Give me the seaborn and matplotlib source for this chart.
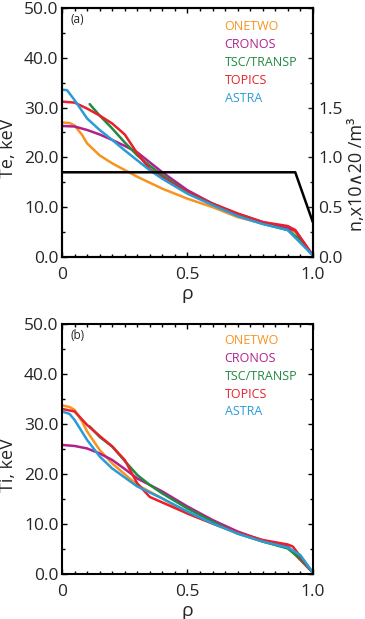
import numpy as np
import pandas as pd
import matplotlib
matplotlib.use("Agg")
import matplotlib.pyplot as plt
import seaborn as sns
from matplotlib.ticker import FixedLocator

sns.set_theme(style="white")
plt.rcParams['font.family'] = ['Open Sans', 'DejaVu Sans']

codes = ["ONETWO", "CRONOS", "TSC/TRANSP", "TOPICS", "ASTRA"]
colors = ["#F7941D", "#B0218E", "#218A3E", "#E8202A", "#2B9BD8"]

# Te profiles
te_onetwo_rho = [0.0, 0.03, 0.05, 0.08, 0.1, 0.15, 0.2, 0.3, 0.4, 0.5, 0.6, 0.7, 0.8, 0.9, 0.93, 1.0]
te_onetwo = [27.0, 26.9, 26.4, 24.5, 22.8, 20.4, 18.8, 16.1, 13.7, 11.7, 10.0, 8.0, 6.7, 5.4, 5.0, 0.3]
te_cronos_rho = [0.0, 0.05, 0.1, 0.15, 0.2, 0.25, 0.3, 0.35, 0.4, 0.5, 0.6, 0.7, 0.8, 0.9, 0.93, 1.0]
te_cronos = [26.3, 26.2, 25.5, 24.6, 23.5, 22.3, 21.0, 19.0, 17.0, 13.4, 10.7, 8.7, 7.0, 5.7, 5.3, 0.3]
te_tsc_rho = [0.11, 0.15, 0.2, 0.25, 0.3, 0.35, 0.4, 0.5, 0.6, 0.7, 0.8, 0.9, 0.95, 1.0]
te_tsc = [30.7, 28.4, 25.8, 23.0, 20.4, 18.3, 16.4, 13.0, 10.7, 8.4, 6.7, 5.4, 3.4, 0.3]
te_topics_rho = [0.0, 0.05, 0.1, 0.15, 0.2, 0.25, 0.3, 0.35, 0.4, 0.5, 0.6, 0.7, 0.8, 0.9, 0.93, 1.0]
te_topics = [31.2, 31.0, 29.8, 28.4, 26.8, 24.6, 20.8, 17.6, 16.0, 13.0, 10.7, 8.7, 7.0, 6.2, 5.4, 0.3]
te_astra_rho = [0.0, 0.02, 0.05, 0.1, 0.15, 0.2, 0.25, 0.3, 0.35, 0.4, 0.5, 0.6, 0.7, 0.8, 0.9, 1.0]
te_astra = [33.6, 33.5, 31.5, 27.8, 25.5, 23.5, 21.4, 19.4, 17.4, 15.7, 12.7, 10.4, 8.2, 6.6, 5.4, 0.3]

# density profile (right axis)
n_rho = [0.0, 0.93, 1.0]
n_val = [0.85, 0.85, 0.35]

# Ti profiles
ti_onetwo_rho = [0.0, 0.03, 0.05, 0.08, 0.1, 0.15, 0.2, 0.3, 0.4, 0.5, 0.6, 0.7, 0.8, 0.9, 1.0]
ti_onetwo = [33.7, 33.4, 32.8, 30.5, 28.5, 24.8, 22.1, 17.8, 15.1, 12.1, 10.1, 8.1, 6.5, 5.3, 0.3]
ti_cronos_rho = [0.0, 0.05, 0.1, 0.15, 0.2, 0.25, 0.3, 0.4, 0.5, 0.6, 0.7, 0.8, 0.9, 1.0]
ti_cronos = [25.8, 25.6, 25.1, 24.1, 22.8, 21.0, 19.1, 16.5, 13.5, 10.8, 8.5, 6.7, 5.5, 0.3]
ti_tsc_rho = [0.11, 0.15, 0.2, 0.25, 0.3, 0.35, 0.4, 0.5, 0.6, 0.7, 0.8, 0.9, 0.95, 1.0]
ti_tsc = [29.5, 27.4, 25.5, 22.6, 19.8, 17.8, 16.1, 13.1, 10.5, 8.1, 6.5, 5.1, 3.1, 0.3]
ti_topics_rho = [0.0, 0.05, 0.1, 0.15, 0.2, 0.25, 0.3, 0.35, 0.4, 0.5, 0.6, 0.7, 0.8, 0.9, 0.92, 1.0]
ti_topics = [33.0, 32.5, 29.8, 27.6, 25.5, 22.8, 18.1, 15.4, 14.3, 12.1, 10.1, 8.3, 6.8, 5.9, 5.5, 0.3]
ti_astra_rho = [0.0, 0.03, 0.05, 0.1, 0.15, 0.2, 0.3, 0.4, 0.5, 0.6, 0.7, 0.8, 0.9, 0.95, 1.0]
ti_astra = [32.5, 32.0, 30.8, 26.8, 23.5, 21.1, 17.5, 15.1, 12.5, 10.1, 8.1, 6.5, 5.3, 3.8, 0.3]

te_sets = [(te_onetwo_rho, te_onetwo), (te_cronos_rho, te_cronos), (te_tsc_rho, te_tsc),
           (te_topics_rho, te_topics), (te_astra_rho, te_astra)]
ti_sets = [(ti_onetwo_rho, ti_onetwo), (ti_cronos_rho, ti_cronos), (ti_tsc_rho, ti_tsc),
           (ti_topics_rho, ti_topics), (ti_astra_rho, ti_astra)]

y_major = [0, 10, 20, 30, 40, 50]
y_minor = [5, 15, 25, 35, 45]
y_labels = ["0.0", "10.0", "20.0", "30.0", "40.0", "50.0"]
x_major = [0, 0.5, 1.0]
x_labels = ["0", "0.5", "1.0"]
x_minor = [0.05, 0.1, 0.15, 0.2, 0.25, 0.3, 0.35, 0.4, 0.45,
           0.55, 0.6, 0.65, 0.7, 0.75, 0.8, 0.85, 0.9, 0.95]
n_major = [0, 0.5, 1.0, 1.5, 2.0, 2.5]
n_labels = ["0.0", "0.5", "1.0", "1.5", "", ""]
n_minor = [0.25, 0.75, 1.25, 1.75, 2.25]


def long_frame(sets):
    rows = []
    for code, (r, v) in zip(codes, sets):
        for a, b in zip(r, v):
            rows.append({"rho": a, "T": b, "code": code})
    return pd.DataFrame(rows)


fig = plt.figure(figsize=(3.65, 6.19), dpi=100)
ax1 = fig.add_axes([0.170, 0.585, 0.687, 0.402])
ax2 = fig.add_axes([0.170, 0.0727, 0.687, 0.404])

palette = dict(zip(codes, colors))
TICK_FS = 12.5
LABEL_FS = 13


def style_axis(ax, ylabel, panel, right_ticks=True):
    ax.set_xlim(0, 1.0)
    ax.set_ylim(0, 50)
    ax.xaxis.set_major_locator(FixedLocator(x_major))
    ax.set_xticklabels(x_labels)
    ax.xaxis.set_minor_locator(FixedLocator(x_minor))
    ax.yaxis.set_major_locator(FixedLocator(y_major))
    ax.yaxis.set_minor_locator(FixedLocator(y_minor))
    ax.set_yticklabels(y_labels)
    ax.tick_params(which="both", direction="in", top=True, right=right_ticks,
                   left=True, bottom=True, labelsize=TICK_FS, color="black")
    ax.tick_params(axis="y", pad=2.5)
    ax.tick_params(axis="x", pad=7.5)
    ax.tick_params(which="major", length=3.5, width=1.0)
    ax.tick_params(which="minor", length=2.5, width=1.0)
    for s in ax.spines.values():
        s.set_color("black")
        s.set_linewidth(1.5)
    ax.set_xlabel("ρ", fontsize=LABEL_FS + 1, labelpad=1)
    ax.set_ylabel(ylabel, fontsize=LABEL_FS)
    ax.yaxis.set_label_coords(-0.178, 0.437)
    ax.text(0.035, 0.955, panel, transform=ax.transAxes, fontsize=8.5, va="center", ha="left")


def draw_legend(ax, ys):
    for code, c, y in zip(codes, colors, ys):
        ax.text(0.648, y, code, transform=ax.transAxes, color=c, fontsize=9,
                ha="left", va="center", family=['Liberation Sans Narrow', 'Open Sans', 'DejaVu Sans'])


# Top panel: Te
sns.lineplot(data=long_frame(te_sets), x="rho", y="T", hue="code", palette=palette,
             hue_order=codes, sort=False, estimator=None, lw=1.8, legend=False, ax=ax1)
style_axis(ax1, "Te, keV", "(a)", right_ticks=False)
draw_legend(ax1, [0.925, 0.853, 0.781, 0.709, 0.637])

ax1r = ax1.twinx()
sns.lineplot(x=n_rho, y=n_val, color="black", lw=1.8, ax=ax1r)
ax1r.set_ylim(0, 2.5)
ax1r.yaxis.set_major_locator(FixedLocator(n_major))
ax1r.set_yticklabels(n_labels)
ax1r.yaxis.set_minor_locator(FixedLocator(n_minor))
ax1r.tick_params(which="both", direction="in", right=True, labelsize=TICK_FS, pad=4)
ax1r.tick_params(which="major", length=3.5, width=1.0)
ax1r.tick_params(which="minor", length=2.5, width=1.0)
ax1r.set_ylabel("n,x10∧20 /m³", fontsize=13, family=['Open Sans', 'DejaVu Sans'])
ax1r.yaxis.set_label_coords(1.14, 0.33)
for s in ax1r.spines.values():
    s.set_linewidth(1.5)
    s.set_color("black")

# Bottom panel: Ti
sns.lineplot(data=long_frame(ti_sets), x="rho", y="T", hue="code", palette=palette,
             hue_order=codes, sort=False, estimator=None, lw=1.8, legend=False, ax=ax2)
style_axis(ax2, "Ti, keV", "(b)", right_ticks=True)
draw_legend(ax2, [0.933, 0.861, 0.789, 0.719, 0.649])

fig.savefig("out.png", dpi=100)
